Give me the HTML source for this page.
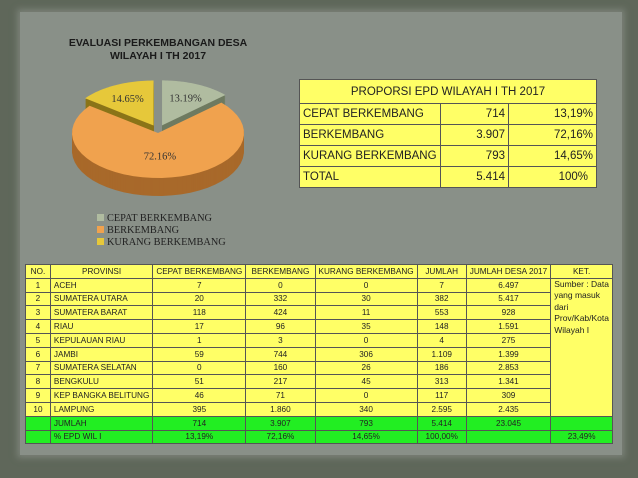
<!DOCTYPE html>
<html><head><meta charset="utf-8"><style>
body{margin:0;width:638px;height:478px;overflow:hidden;background:#5f675a;font-family:"Liberation Sans",sans-serif;position:relative}
#panel{position:absolute;left:20px;top:12px;width:602px;height:443px;background:#899088;box-shadow:0 0 6px 3px #7a8177}
.t{position:absolute;border-collapse:collapse;background:#ffff66;color:#222}
.t td{border:1px solid #555;padding:0 3px;white-space:nowrap}
#big td{font-size:8.2px;height:12.8px;text-align:center}
#big td.l{text-align:left}
#big tr.g td{background:#22ee22}
#prop td{font-size:11.5px;height:20px}
</style></head><body>
<div id="panel"></div>
<svg id="pie" width="638" height="478" style="position:absolute;left:0;top:0">
<text x="158" y="46" text-anchor="middle" font-size="10.5" font-weight="bold" fill="#1a1a1a">EVALUASI PERKEMBANGAN DESA</text>
<text x="158" y="59" text-anchor="middle" font-size="10.5" font-weight="bold" fill="#1a1a1a">WILAYAH I TH 2017</text>
<g id="slices"></g>
<g id="legend"></g>
</svg>
<table id="prop" class="t" style="left:299px;top:79px;width:298px">
<tr><td colspan="3" style="text-align:center;height:23px">PROPORSI EPD WILAYAH I TH 2017</td></tr>
<tr><td style="width:126px">CEPAT BERKEMBANG</td><td style="text-align:right">714</td><td style="text-align:right">13,19%</td></tr>
<tr><td>BERKEMBANG</td><td style="text-align:right">3.907</td><td style="text-align:right">72,16%</td></tr>
<tr><td>KURANG BERKEMBANG</td><td style="text-align:right">793</td><td style="text-align:right">14,65%</td></tr>
<tr><td>TOTAL</td><td style="text-align:right">5.414</td><td style="text-align:right;padding-right:8px">100%</td></tr>
</table>
<table id="big" class="t" style="left:25px;top:264px;width:588px">
<tr><td style="width:20px">NO.</td><td style="width:95px">PROVINSI</td><td style="width:81px">CEPAT BERKEMBANG</td><td style="width:65px">BERKEMBANG</td><td style="width:94px">KURANG BERKEMBANG</td><td style="width:48px">JUMLAH</td><td style="width:75px">JUMLAH DESA 2017</td><td>KET.</td></tr>
<tr><td>1</td><td class="l">ACEH</td><td>7</td><td>0</td><td>0</td><td>7</td><td>6.497</td><td rowspan="10" class="l" style="vertical-align:top;white-space:normal;line-height:11.5px;font-size:8.5px">Sumber : Data yang masuk dari Prov/Kab/Kota Wilayah I</td></tr>
<tr><td>2</td><td class="l">SUMATERA UTARA</td><td>20</td><td>332</td><td>30</td><td>382</td><td>5.417</td></tr>
<tr><td>3</td><td class="l">SUMATERA BARAT</td><td>118</td><td>424</td><td>11</td><td>553</td><td>928</td></tr>
<tr><td>4</td><td class="l">RIAU</td><td>17</td><td>96</td><td>35</td><td>148</td><td>1.591</td></tr>
<tr><td>5</td><td class="l">KEPULAUAN RIAU</td><td>1</td><td>3</td><td>0</td><td>4</td><td>275</td></tr>
<tr><td>6</td><td class="l">JAMBI</td><td>59</td><td>744</td><td>306</td><td>1.109</td><td>1.399</td></tr>
<tr><td>7</td><td class="l">SUMATERA SELATAN</td><td>0</td><td>160</td><td>26</td><td>186</td><td>2.853</td></tr>
<tr><td>8</td><td class="l">BENGKULU</td><td>51</td><td>217</td><td>45</td><td>313</td><td>1.341</td></tr>
<tr><td>9</td><td class="l">KEP BANGKA BELITUNG</td><td>46</td><td>71</td><td>0</td><td>117</td><td>309</td></tr>
<tr><td>10</td><td class="l">LAMPUNG</td><td>395</td><td>1.860</td><td>340</td><td>2.595</td><td>2.435</td></tr>
<tr class="g"><td></td><td class="l">JUMLAH</td><td>714</td><td>3.907</td><td>793</td><td>5.414</td><td>23.045</td><td></td></tr>
<tr class="g"><td></td><td class="l">% EPD WIL I</td><td>13,19%</td><td>72,16%</td><td>14,65%</td><td>100,00%</td><td></td><td>23,49%</td></tr>
</table>
<script>
const categories=["CEPAT BERKEMBANG","BERKEMBANG","KURANG BERKEMBANG"];
const values=[714,3907,793];
const labels=["13.19%","72.16%","14.65%"];
const topColors=["#b0bca0","#f0a24e","#e6c83a"];
const sideColors=["#6e7a60","#a8692a","#8a7418"];
const cx=158,cy=133,rx=86,ry=45,depth=18;
const NS="http://www.w3.org/2000/svg";
const g=document.getElementById('slices');
const total=values.reduce((a,b)=>a+b,0);
let a0=-Math.PI/2;
const sl=values.map((v,i)=>{const a1=a0+v/total*2*Math.PI;const r={a0,a1};a0=a1;return r;});
function path(s,ox,oy){
  let d=`M${ox},${oy}`;const n=40;
  for(let k=0;k<=n;k++){const a=s.a0+(s.a1-s.a0)*k/n;d+=` L${ox+rx*Math.cos(a)},${oy+ry*Math.sin(a)}`;}
  return d+'Z';
}
sl.forEach((s,i)=>{
  const mid=(s.a0+s.a1)/2;
  const ex=i===1?0:10;
  s.ox=cx+ex*Math.cos(mid);s.oy=cy+ex*0.5*Math.sin(mid)-(i===1?0:3);
  s.mid=mid;
});
sl.forEach((s,i)=>{
  for(let d=depth;d>0;d--){
    const p=document.createElementNS(NS,'path');
    p.setAttribute('d',path(s,s.ox,s.oy+d));p.setAttribute('fill',sideColors[i]);
    
    
    g.appendChild(p);
  }
});
sl.forEach((s,i)=>{
  const p=document.createElementNS(NS,'path');
  p.setAttribute('d',path(s,s.ox,s.oy));p.setAttribute('fill',topColors[i]);
  
  
  g.appendChild(p);
  const t=document.createElementNS(NS,'text');
  const f=i===1?0.5:0.68;
  t.setAttribute('x',s.ox+rx*f*Math.cos(s.mid));t.setAttribute('y',s.oy+ry*f*Math.sin(s.mid)+4);
  t.setAttribute('text-anchor','middle');t.setAttribute('font-size','10.5');
  t.setAttribute('font-family','Liberation Serif,serif');t.setAttribute('fill','#333');
  t.textContent=labels[i];
  
  
  g.appendChild(t);
});
const lg=document.getElementById('legend');
categories.forEach((c,i)=>{
  const r=document.createElementNS(NS,'rect');
  r.setAttribute('x',97);r.setAttribute('y',214+i*12);r.setAttribute('width',7);r.setAttribute('height',7);r.setAttribute('fill',topColors[i]);
  
  
  lg.appendChild(r);
  const t=document.createElementNS(NS,'text');
  t.setAttribute('x',107);t.setAttribute('y',221+i*12);t.setAttribute('font-size','10.3');
  t.setAttribute('font-family','Liberation Serif,serif');t.setAttribute('fill','#222');t.textContent=c;
  
  
  lg.appendChild(t);
});
</script>
</body></html>
